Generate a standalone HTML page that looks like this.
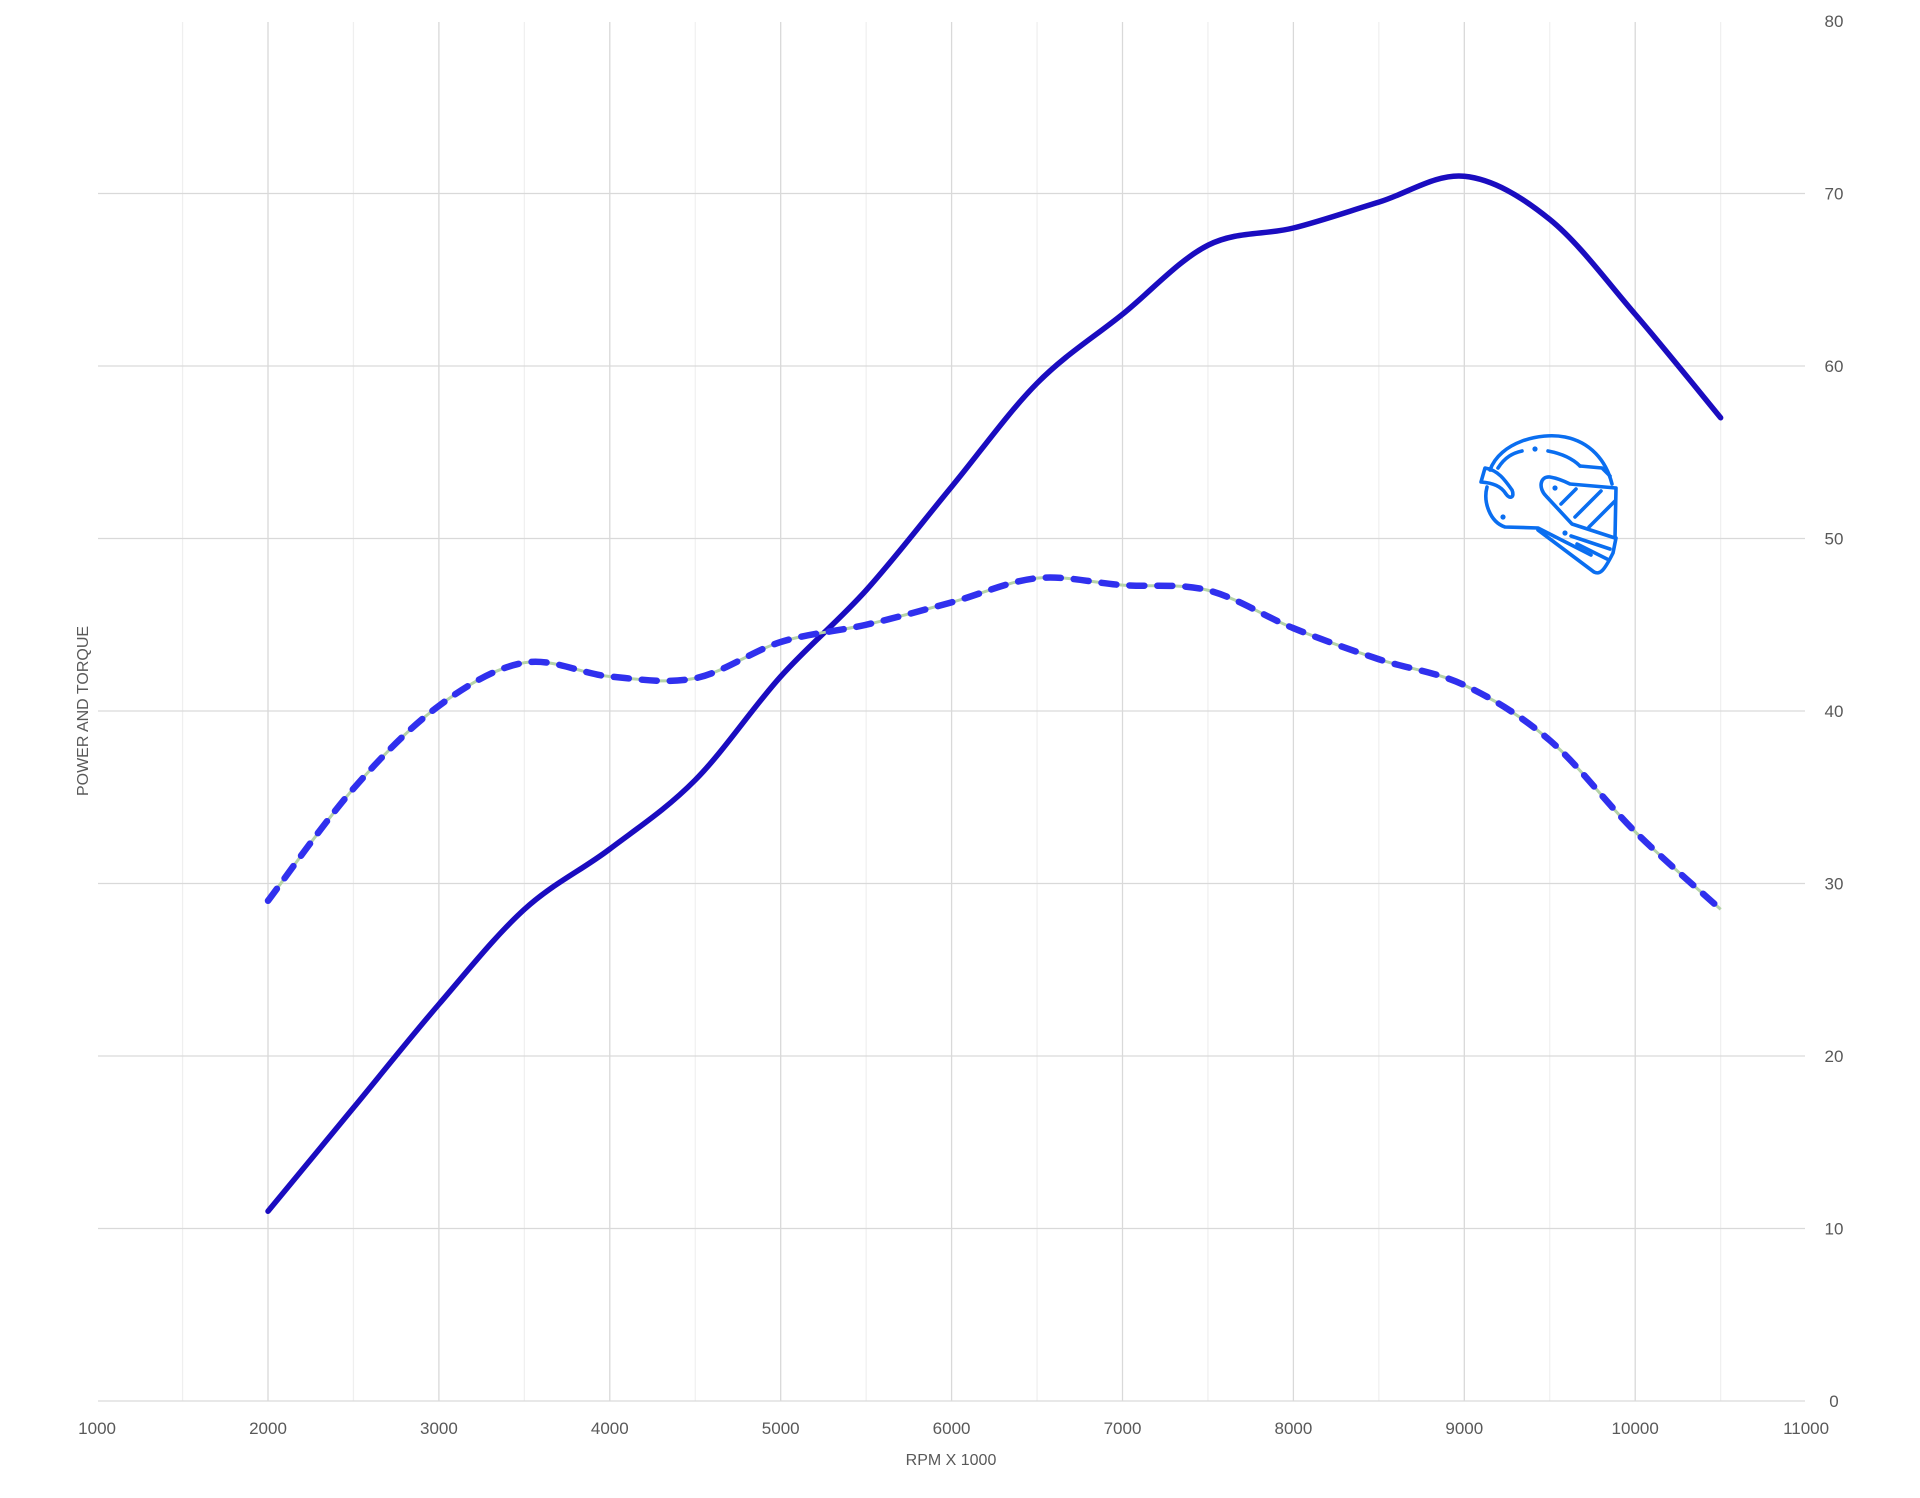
<!DOCTYPE html>
<html><head><meta charset="utf-8"><style>
html,body{margin:0;padding:0;background:#fff;}
svg{display:block;}
text{font-family:"Liberation Sans",sans-serif;fill:#595959;}
</style></head><body>
<svg id="s" width="1920" height="1498" viewBox="0 0 1920 1498" xmlns="http://www.w3.org/2000/svg">
<g id="grid"></g>
<g id="labels" font-size="17"></g>
<text x="951" y="1465" font-size="16" text-anchor="middle">RPM X 1000</text>
<text transform="translate(88,711) rotate(-90)" font-size="16" text-anchor="middle">POWER AND TORQUE</text>
<path id="solid" fill="none" stroke="#1a0cc0" stroke-width="5.5" stroke-linecap="round" stroke-linejoin="round"/>
<path id="dashbg" fill="none" stroke="#b5d3a8" stroke-width="3"/>
<path id="dash" fill="none" stroke="#3030ee" stroke-width="6.5" stroke-linecap="round" stroke-dasharray="15 13"/>
<g transform="translate(1460,420)" fill="none" stroke="#0a6ef0" stroke-width="3.6" stroke-linecap="round" stroke-linejoin="round">
<path d="M30,50 C40,22 80,12 105,17 C130,22 146,40 152,64"/>
<path d="M120,46 L142,48 L150,56"/>
<path d="M38,48 C45,37 53,33 62,31"/>
<path d="M88,31 C104,34 114,40 120,46"/>
<path d="M90,57 C80,56 78,68 86,76 L112,104 L155,118 L156,68 L110,64 C102,60 96,58 90,57 Z"/>
<path d="M101,84 L116,69"/>
<path d="M115,97 L141,71"/>
<path d="M129,107 L155,81"/>
<path d="M21,62 L25,48 C38,50 45,60 52,70 C55,77 50,80 46,74 C41,66 33,63 21,62 Z"/>
<path d="M27,67 C23,82 30,102 45,107 L78,108 L131,135"/>
<path d="M78,110 L134,152 C140,155 144,151 153,133 L156,118"/>
<path d="M111,116 L150,129"/>
<path d="M117,124 L147,139"/>
</g>
<g fill="#0a6ef0">
<circle cx="1503" cy="517" r="2.6"/><circle cx="1555" cy="488" r="2.6"/><circle cx="1565" cy="533" r="2.6"/><circle cx="1535" cy="449" r="2.6"/>
</g>
</svg>
<script>
var X=function(v){return 268+(v-2000)*0.1709;};
var Y=function(d){return 1401-d*17.25;};
var g=document.getElementById('grid'),lb=document.getElementById('labels'),ns='http://www.w3.org/2000/svg';
function el(p,tag,a,t){var e=document.createElementNS(ns,tag);for(var k in a)e.setAttribute(k,a[k]);if(t!==undefined)e.textContent=t;p.appendChild(e);return e;}
for(var v=1500;v<=10500;v+=500){var maj=(v%1000===0);el(g,'line',{x1:X(v),x2:X(v),y1:22,y2:1401,stroke:maj?'#d9d9d9':'#efefef','stroke-width':maj?1.3:1.2});}
for(var d=0;d<=70;d+=10){el(g,'line',{x1:98,x2:1805,y1:Y(d),y2:Y(d),stroke:'#d9d9d9','stroke-width':1.3});}
for(var v=1000;v<=11000;v+=1000){el(lb,'text',{x:X(v),y:1434,'text-anchor':'middle'},String(v));}
for(var d=0;d<=80;d+=10){el(lb,'text',{x:1834,y:Y(d)+6,'text-anchor':'middle'},String(d));}
function path(pts){var p=pts.map(function(a){return [X(a[0]),Y(a[1])];});var s='M'+p[0][0]+','+p[0][1];
for(var i=0;i<p.length-1;i++){var p0=p[i-1]||p[i],p1=p[i],p2=p[i+1],p3=p[i+2]||p2;
s+=' C'+(p1[0]+(p2[0]-p0[0])/6)+','+(p1[1]+(p2[1]-p0[1])/6)+' '+(p2[0]-(p3[0]-p1[0])/6)+','+(p2[1]-(p3[1]-p1[1])/6)+' '+p2[0]+','+p2[1];}return s;}
var sp=[[2000,11],[2500,17],[3000,23],[3500,28.5],[4000,32],[4500,36],[5000,42],[5500,47],[6000,53],[6500,59],[7000,63],[7500,67],[8000,68],[8500,69.5],[9000,71],[9500,68.5],[10000,63],[10500,57]];
var dp=[[2000,29],[2500,35.5],[3000,40.3],[3500,42.8],[4000,42],[4500,41.9],[5000,44],[5500,45],[6000,46.3],[6500,47.7],[7000,47.3],[7500,47],[8000,44.8],[8500,43],[9000,41.5],[9500,38.3],[10000,33],[10500,28.5]];
document.getElementById('solid').setAttribute('d',path(sp));
var dd=path(dp);document.getElementById('dash').setAttribute('d',dd);document.getElementById('dashbg').setAttribute('d',dd);
</script>
</body></html>
